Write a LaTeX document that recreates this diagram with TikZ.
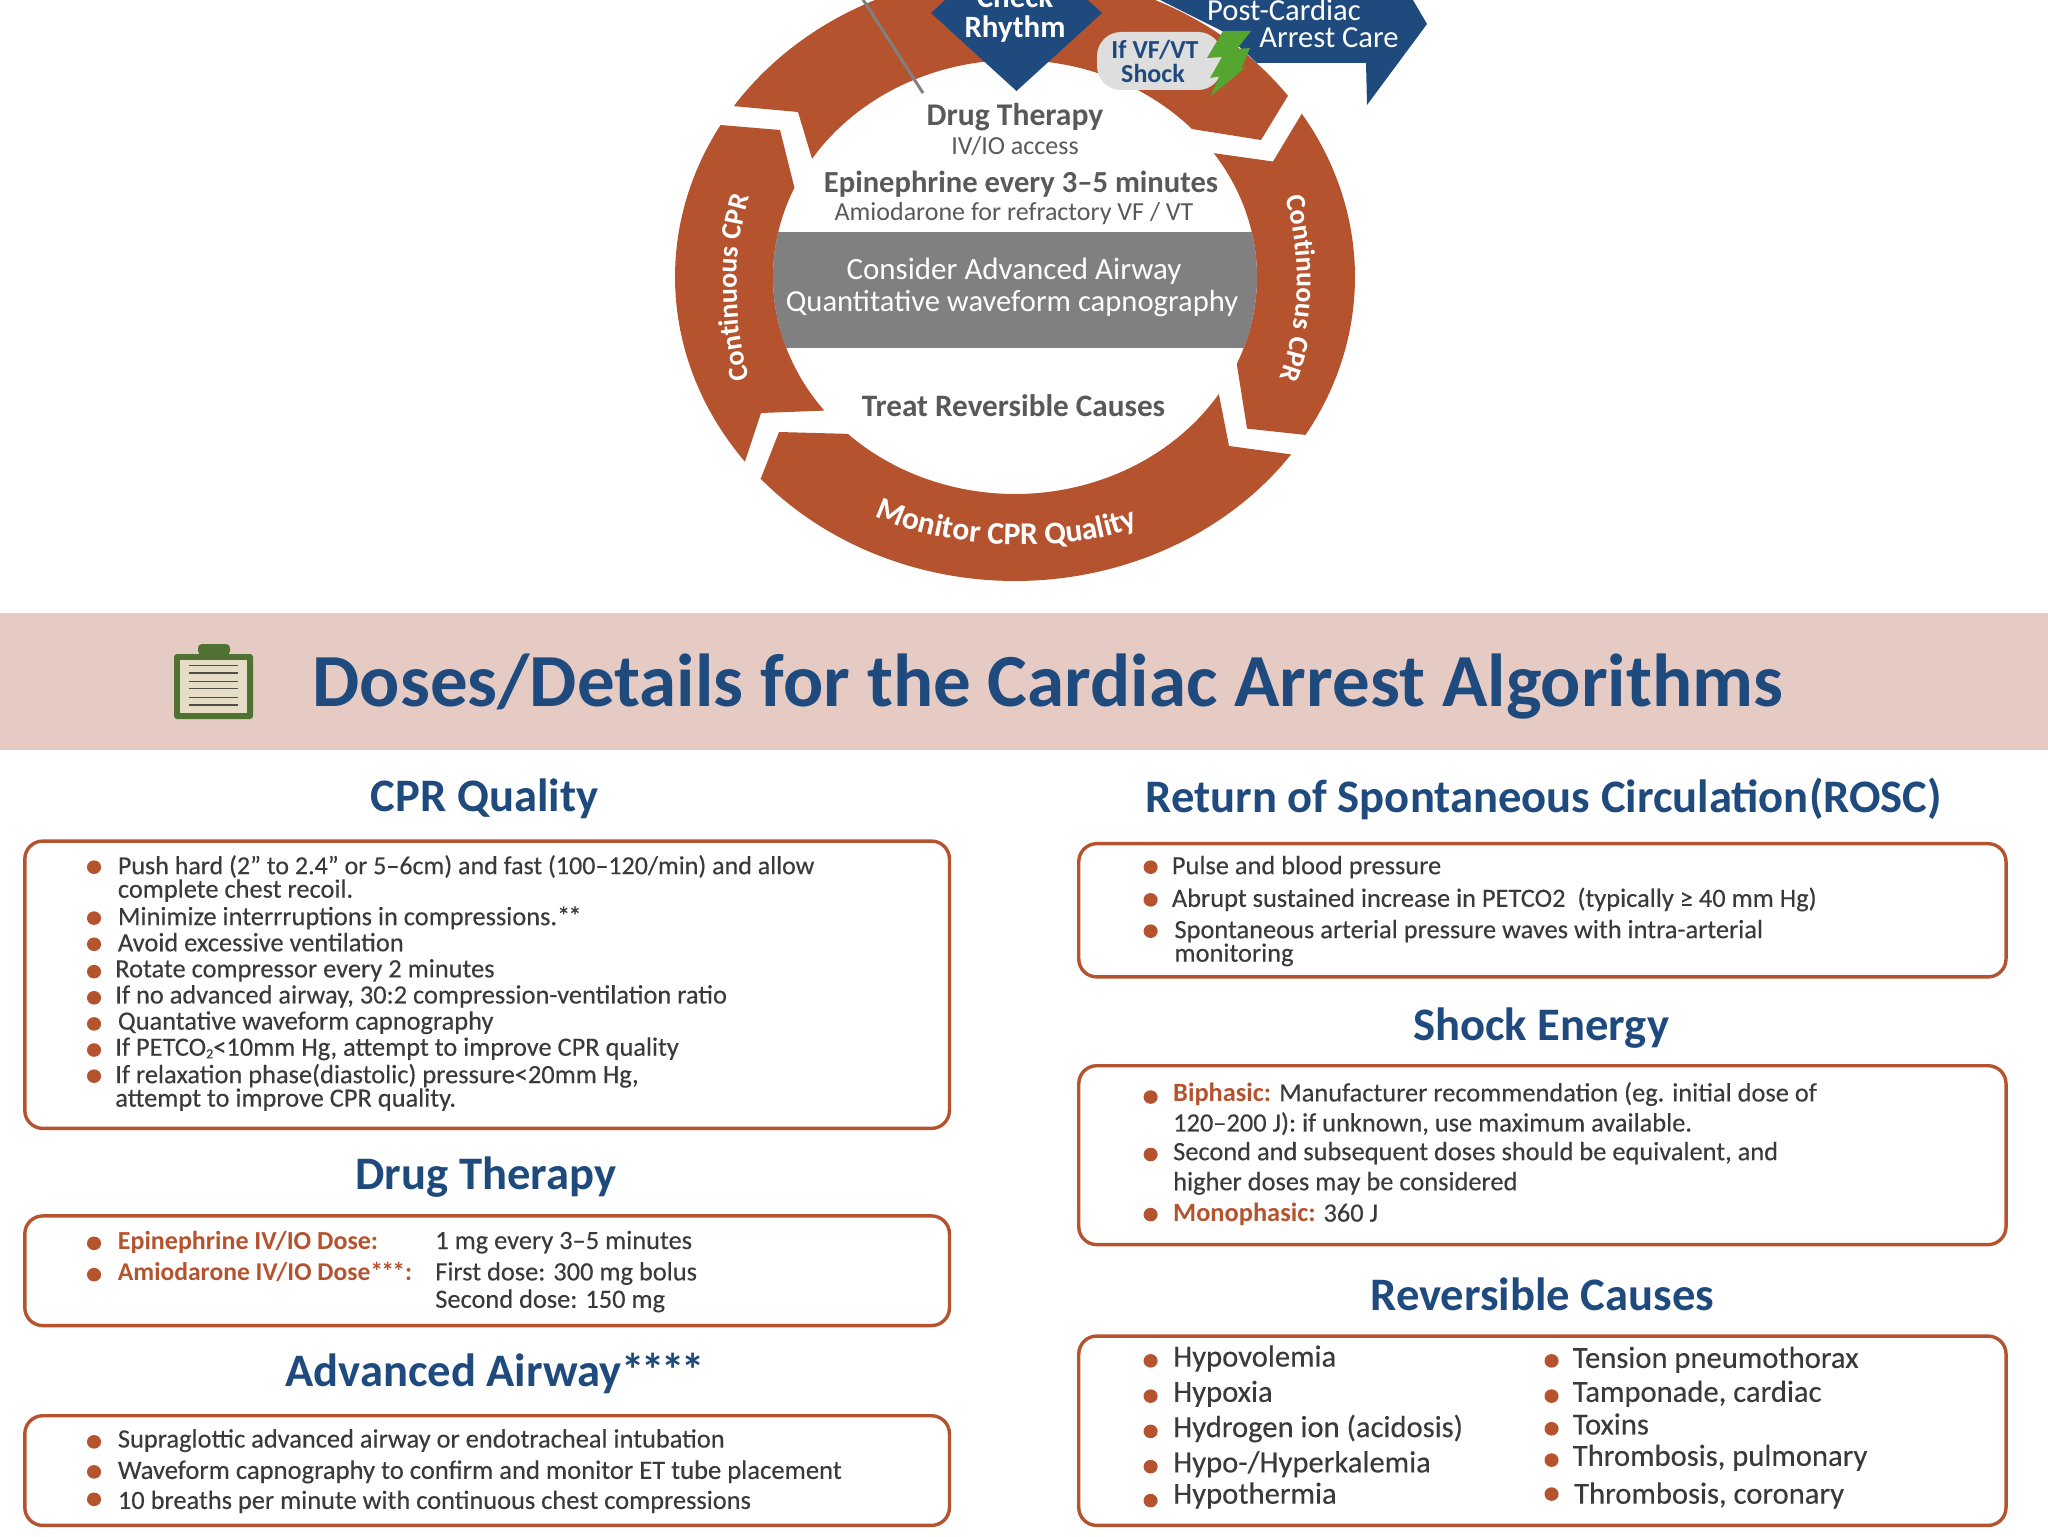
\documentclass[tikz,border=0pt]{standalone}
\usepackage{fontspec}
\setmainfont{Carlito}
\newfontfamily\semi[FakeBold=0.25]{Carlito}
\usetikzlibrary{decorations.text}
\definecolor{rust}{HTML}{B5532F}
\definecolor{navy}{HTML}{1F4A7E}
\definecolor{txt}{HTML}{3A3A3A}
\definecolor{gtxt}{HTML}{58595B}
\definecolor{band}{HTML}{E5CBC4}
\definecolor{leaf}{HTML}{4F7233}
\definecolor{paper}{HTML}{E6DDC6}
\definecolor{bolt}{HTML}{55A630}
\newcommand{\fs}[1]{\fontsize{#1}{#1}\selectfont}
\newcommand{\tightstar}{*\kern-.07em}
\tikzset{
  seg/.style={fill=rust,draw=none},
  lbl/.style={inner sep=0pt,align=center,anchor=center},
  ringgray/.style={lbl,text=gtxt,font=\fs{14.5}},
  ringgrayb/.style={lbl,text=gtxt,font=\fs{15.3}\bfseries},
  barw/.style={lbl,text=white,font=\fs{15.5}},
  head/.style={lbl,text=navy,font=\fs{23.3}\bfseries},
  cbox/.style={draw=rust,line width=1.7pt,rounded corners=9pt,fill=white},
  it/.style={inner sep=0pt,anchor=west,text=txt,font=\semi\fs{13.2},text height=.85em,text depth=.15em},
  itb/.style={it,font=\semi\fs{15.3}},
  ito/.style={it,text=rust,font=\fs{13.2}\bfseries},
  dot/.style={fill=rust},
  ringtxt/.style={decorate,decoration={text along path,text align=center,text={#1}}}
}
\newcommand{\bu}[2]{\fill[dot] (#1,#2) ellipse [x radius=5.4,y radius=5.2];}
\begin{document}
\begin{tikzpicture}[x=.5pt,y=-.5pt]
\path[use as bounding box,fill=white] (0,0) rectangle (2048,1536);
\clip (0,0) rectangle (2048,1536);
% ring
\begin{scope}[shift={(1015,277)},yscale=-1]
\fill[seg] (150:340 and 304) arc[start angle=150,end angle=217.4,x radius=340,y radius=304] -- (-254,-136) -- (218:242 and 217) arc[start angle=218,end angle=155.7,x radius=242,y radius=217] -- (-235,147) -- cycle;
\fill[seg] (-254,-201) -- (-236,-155) -- (226.3:242 and 217) arc[start angle=226.3,end angle=327.4,x radius=242,y radius=217] -- (214,-169) -- (324.3:340 and 304) arc[start angle=324.3,end angle=221.5,x radius=340,y radius=304] -- cycle;
\fill[seg] (32.5:340 and 304) -- (258,115.5) -- (34.8:242 and 217) arc[start angle=34.8,end angle=-23.6,x radius=242,y radius=217] -- (232,-151.6) -- (-31.3:340 and 304) arc[start angle=-31.3,end angle=32.5,x radius=340,y radius=304] -- cycle;
\fill[seg] (145.8:340 and 304) -- (-217,165) -- (147:242 and 217) arc[start angle=147,end angle=43,x radius=242,y radius=217] -- (246,137) -- (36.6:340 and 304) arc[start angle=36.6,end angle=145.8,x radius=340,y radius=304] -- cycle;
\begin{scope}
\clip (0,0) ellipse [x radius=242,y radius=217];
\fill[black!50] (-300,45) rectangle (300,-71);
\end{scope}
\end{scope}
\coordinate (lnA) at (862,-2);
\coordinate (lnB) at (923,93);
\draw[black!50,line width=1.5pt] (lnA) -- (lnB);
% blue shapes
\fill[navy] (1160,0) -- (1222,31) -- (1257,63) -- (1366,63) -- (1367,105) -- (1427,24) -- (1410,-5) -- (1160,-5) -- cycle;
\fill[navy] (1016,-65) -- (1102,13) -- (1016.5,91) -- (931,13) -- cycle;
\node[lbl,text=white,font=\fs{15.3}] (post) at (1284,10) {Post-Cardiac};
\node[lbl,text=white,font=\fs{15.3}] (care) at (1329,38) {Arrest Care};
\node[lbl,text=white,font=\fs{15.5}\bfseries] (chk) at (1015,-3) {Check};
\node[lbl,text=white,font=\fs{15.5}\bfseries] (rhy) at (1015,29) {Rhythm};
\fill[black!13] (1097,32) [rounded corners=12pt] -- (1222,32) -- (1222,90) -- (1097,90) -- cycle;
\node[lbl,text=navy,font=\fs{13}\bfseries] (vf) at (1155,50) {If VF/VT};
\node[lbl,text=navy,font=\fs{13}\bfseries] (sh) at (1153,73.5) {Shock};
\fill[bolt] (1223,31) -- (1251,31) -- (1237,49) -- (1250,48) -- (1241,69) -- (1246,67) -- (1211,96) -- (1219,76.5) -- (1210,78) -- (1222,57) -- (1207,58) -- cycle;
% ring texts
\node[ringgrayb,font=\fs{15.8}\bfseries] (dt) at (1015,117) {Drug Therapy};
\node[ringgray,font=\fs{13}] (iv) at (1015,146) {IV/IO access};
\node[ringgrayb] (ep) at (1021,184) {Epinephrine every 3–5 minutes};
\node[ringgray,font=\fs{13}] (am) at (1014,214) {Amiodarone for refractory VF / VT};
\node[barw] (con) at (1014,271) {Consider Advanced Airway};
\node[barw,font=\fs{15.3}] (qu) at (1012,304) {Quantitative waveform capnography};
\node[ringgrayb,font=\fs{15.6}\bfseries] (tr) at (1013.5,406) {Treat Reversible Causes};
\path[ringtxt={|\fs{14}\bfseries\color{white}|Continuous CPR}] (751,385) .. controls (732,325) and (732,250) .. (751,190);
\path[ringtxt={|\fs{14}\bfseries\color{white}|Continuous CPR}] (1284,192) .. controls (1302,255) and (1302,320) .. (1278,384);
\path[ringtxt={|\fs{15.8}\bfseries\color{white}|Monitor CPR Quality}] (875,516) .. controls (940,548) and (1070,556) .. (1138,526);
% band
\fill[band] (0,612.5) rectangle (2048,750);
\fill[leaf,rounded corners=1.5pt] (174,654) rectangle (253,719);
\fill[paper] (180,660) rectangle (247,713);
\fill[leaf,rounded corners=2pt] (198,644) rectangle (230,655);
\foreach \yy in {665.4,673,681.6,688.8,697.5,705} \draw[black!65!paper,line width=.6pt] (189,\yy) -- (238,\yy);
\node[lbl,text=navy,font=\fs{37.5}\bfseries] (title) at (1048,687) {Doses/Details for the Cardiac Arrest Algorithms};
% lower part in reduced coordinates
\begin{scope}[x=.653pt,y=-.653pt]
\node[head] (h1) at (371,612) {CPR Quality};
\node[head] (h2) at (1182,612) {Return of Spontaneous Circulation(ROSC)};
\node[head] (h3) at (372,901) {Drug Therapy};
\node[head] (h4) at (1180,787) {Shock Energy};
\node[head] (h5) at (379,1052) {Advanced Airway\tightstar\tightstar\tightstar*};
\node[head] (h6) at (1181,991) {Reversible Causes};
\draw[cbox] (19,644) rectangle (727,864);
\draw[cbox] (19,931) rectangle (727,1015);
\draw[cbox] (19,1084) rectangle (727,1168);
\draw[cbox] (826,646) rectangle (1536,748);
\draw[cbox] (826,816) rectangle (1536,953);
\draw[cbox] (826,1023) rectangle (1536,1168);
% CPR
\foreach \yy in {664,703,723,744,764,784,804,824} {\bu{72}{\yy}}
\node[it,font=\semi\fs{13}] (a1) at (90,664) {Push hard (2” to 2.4” or 5–6cm) and fast (100–120/min) and allow};
\node[it] (a2) at (90,682) {complete chest recoil.};
\node[it] (a3) at (90,703) {Minimize interrruptions in compressions.\tightstar*};
\node[it] (a4) at (90,723) {Avoid excessive ventilation};
\node[it] (a5) at (88,743) {Rotate compressor every 2 minutes};
\node[it] (a6) at (88,763) {If no advanced airway, 30:2 compression-ventilation ratio};
\node[it] (a7) at (90,783) {Quantative waveform capnography};
\node[it] (a8) at (88,803) {If PETCO\raisebox{-.1em}{\fs{7}2}<10mm Hg, attempt to improve CPR quality};
\node[it] (a9) at (88,824) {If relaxation phase(diastolic) pressure<20mm Hg,};
\node[it] (a10) at (88,842) {attempt to improve CPR quality.};
% Drug
\bu{72}{952}\bu{72}{976}
\node[ito,font=\fs{13}\bfseries] (b1) at (90,951) {Epinephrine IV/IO Dose:};
\node[it] (b2) at (333,951) {1 mg every 3–5 minutes};
\node[ito,font=\fs{12.8}\bfseries] (b3) at (90,975) {Amiodarone IV/IO Dose\tightstar\tightstar*:};
\node[it] (b4) at (333,975) {First dose: 300 mg bolus};
\node[it] (b5) at (333,996) {Second dose: 150 mg};
% Airway
\bu{72}{1104}\bu{72}{1127}\bu{72}{1148}
\node[it] (c1) at (90,1103) {Supraglottic advanced airway or endotracheal intubation};
\node[it,font=\semi\fs{13.3}] (c2) at (90,1127) {Waveform capnography to confirm and monitor ET tube placement};
\node[it] (c3) at (90,1150) {10 breaths per minute with continuous chest compressions};
% ROSC
\bu{881}{664}\bu{881}{689}\bu{881}{713}
\node[it] (d1) at (897,664) {Pulse and blood pressure};
\node[it] (d2) at (897,689) {Abrupt sustained increase in PETCO2\ \ (typically ≥ 40 mm Hg)};
\node[it] (d3) at (899,713) {Spontaneous arterial pressure waves with intra-arterial};
\node[it] (d4) at (899,731) {monitoring};
% Shock
\bu{881}{840}\bu{881}{884}\bu{881}{930}
\node[it] (e1) at (898,838) {\textcolor{rust}{{\normalfont\bfseries Biphasic:}} Manufacturer recommendation (eg. initial dose of};
\node[it] (e2) at (898,861) {120–200 J): if unknown, use maximum available.};
\node[it] (e3) at (898,883) {Second and subsequent doses should be equivalent, and};
\node[it] (e4) at (898,906) {higher doses may be considered};
\node[it] (e5) at (898,930) {\textcolor{rust}{{\normalfont\bfseries Monophasic:}} 360 J};
% Reversible
\foreach \yy in {1042,1069,1096,1123,1149} {\bu{881}{\yy}}
\foreach \yy in {1042,1069,1094,1118,1144} {\bu{1188}{\yy}}
\node[itb] (f1) at (898,1041) {Hypovolemia};
\node[itb] (f2) at (898,1068) {Hypoxia};
\node[itb] (f3) at (898,1095) {Hydrogen ion (acidosis)};
\node[itb] (f4) at (898,1122) {Hypo-/Hyperkalemia};
\node[itb] (f5) at (898,1146) {Hypothermia};
\node[itb] (g1) at (1204,1042) {Tension pneumothorax};
\node[itb] (g2) at (1204,1068) {Tamponade, cardiac};
\node[itb] (g3) at (1204,1093) {Toxins};
\node[itb] (g4) at (1204,1117) {Thrombosis, pulmonary};
\node[itb] (g5) at (1205,1146) {Thrombosis, coronary};
\end{scope}
\end{tikzpicture}
\end{document}
